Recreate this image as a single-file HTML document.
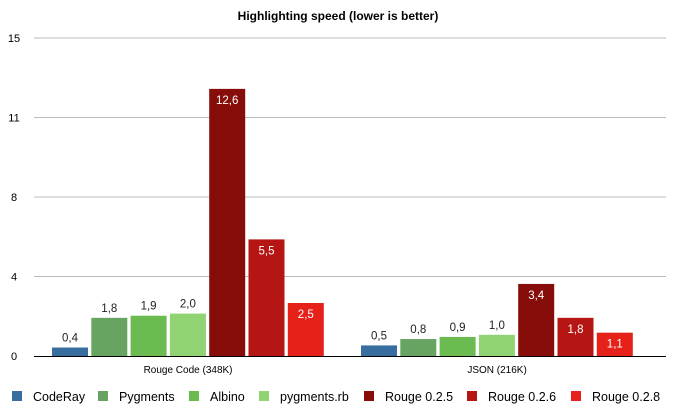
<!DOCTYPE html>
<html><head><meta charset="utf-8"><style>
body{margin:0;background:#fff;font-family:"Liberation Sans",sans-serif}
svg{display:block}
</style></head><body>
<svg id="chart" width="676" height="414">
<text x="338" y="20" text-anchor="middle" font-size="12" font-weight="bold" fill="#000">Highlighting speed (lower is better)</text>
<g id="grid"></g><g id="bars"></g><g id="legend"></g>
</svg>
<script>
const categories=["Rouge Code (348K)","JSON (216K)"];
const seriesNames=["CodeRay","Pygments","Albino","pygments.rb","Rouge 0.2.5","Rouge 0.2.6","Rouge 0.2.8"];
const seriesColors=["#386da0","#67a462","#6bbb50","#8fd373","#860d09","#b51613","#e5211a"];
const values=[[0.4,1.8,1.9,2.0,12.6,5.5,2.5],[0.5,0.8,0.9,1.0,3.4,1.8,1.1]];
const labels=[["0,4","1,8","1,9","2,0","12,6","5,5","2,5"],["0,5","0,8","0,9","1,0","3,4","1,8","1,1"]];
const ticks=[0,3.75,7.5,11.25,15];
const tickLabels=["0","4","8","11","15"];
const legendX=[12,98,189,259,364,467,571];
const NS="http://www.w3.org/2000/svg";
const y0=356,yTop=38,vmax=15,xL=34,xR=666;
const y=v=>y0-(y0-yTop)*v/vmax;
const groupStart=[52,361],pitch=39.3,bw=36;
function mk(tag,attrs,parent,txt){const e=document.createElementNS(NS,tag);for(const k in attrs)e.setAttribute(k,attrs[k]);if(txt!=null)e.textContent=txt;parent.appendChild(e);return e;}
const grid=document.getElementById('grid'),bars=document.getElementById('bars'),leg=document.getElementById('legend');
ticks.forEach((t,i)=>{
 if(i>0){const l=mk('line',{x1:xL,x2:xR,y1:y(t),y2:y(t),stroke:'#bdbdbd','stroke-width':1},grid);
 
 }
 const tx=mk('text',{x:14,y:y(t)+4,'font-size':11,fill:'#000','text-anchor':'middle'},grid,tickLabels[i]);
 
 
});
categories.forEach((c,g)=>{
 values[g].forEach((v,s)=>{
  const x=groupStart[g]+s*pitch;
  const r=mk('rect',{x:x,y:y(v),width:bw,height:y0-y(v),fill:seriesColors[s]},bars);
  
  
  const inside=s>=4;
  const t=mk('text',{x:x+bw/2,y:inside?y(v)+15:y(v)-6,'font-size':11.5,'text-anchor':'middle',fill:inside?'#fff':'#222'},bars,labels[g][s]);
  
  
 });
 const ct=mk('text',{x:groupStart[g]+(7*pitch-3)/2,y:373,'font-size':10,'text-anchor':'middle',fill:'#000'},bars,c);
 
 
});
const ax=mk('line',{x1:xL,x2:xR,y1:y0+0.5,y2:y0+0.5,stroke:'#000','stroke-width':1},bars);


seriesNames.forEach((n,s)=>{
 const g=mk('g',{},leg);
 
 
 mk('rect',{x:legendX[s],y:391,width:10,height:10,fill:seriesColors[s]},g);
 mk('text',{x:legendX[s]+21,y:401,'font-size':12.5,fill:'#000'},g,n);
});
</script>
</body></html>
